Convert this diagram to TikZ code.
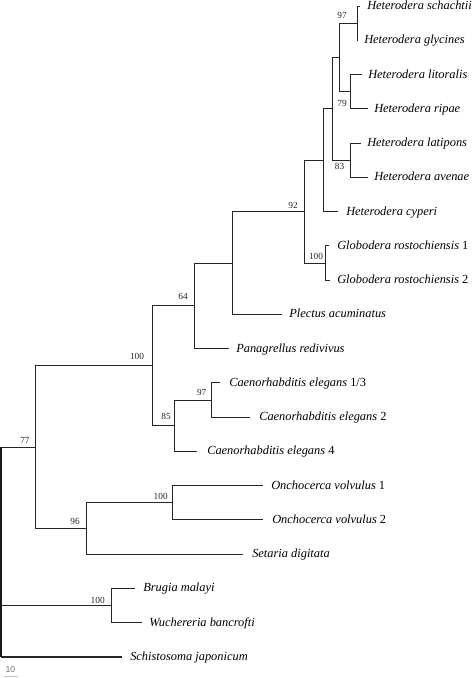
\documentclass[tikz,border=0pt]{standalone}
\usepackage{fontspec}
\setmainfont{Liberation Serif}
\newfontfamily\scalefont{Liberation Sans}
\begin{document}
\begin{tikzpicture}[x=0.75pt,y=-0.75pt,
  br/.style={draw=black!85, line width=0.7pt},
  rootline/.style={draw=black!90, line width=1.8pt},
  sp/.style={anchor=base west, inner sep=0pt, font=\fontsize{9.3}{11}\selectfont\itshape},
  bs/.style={inner sep=0pt, font=\fontsize{7}{8}\selectfont, text=black!85}]
\useasboundingbox (0,0) rectangle (474,678);
% leaf tips
\coordinate (t0) at (360,6.0);
\coordinate (t1) at (358,40.3);
\coordinate (t2) at (362,74.5);
\coordinate (t3) at (368,108.8);
\coordinate (t4) at (361,143.0);
\coordinate (t5) at (368,177.3);
\coordinate (t6) at (338,211.6);
\coordinate (t7) at (329,245.8);
\coordinate (t8) at (330,280.1);
\coordinate (t9) at (282,314.3);
\coordinate (t10) at (229,348.6);
\coordinate (t11) at (220,382.9);
\coordinate (t12) at (250,417.1);
\coordinate (t13) at (197,451.4);
\coordinate (t14) at (263,485.6);
\coordinate (t15) at (263,519.9);
\coordinate (t16) at (243,554.2);
\coordinate (t17) at (135,588.4);
\coordinate (t18) at (142,622.7);
\coordinate (t19) at (122,656.9);
% internal nodes
\coordinate (n97) at (357,23.2);
\coordinate (n79) at (350,91.7);
\coordinate (nD) at (339,57.4);
\coordinate (n83) at (350,160.2);
\coordinate (nC) at (332,108.8);
\coordinate (nB) at (323,160.2);
\coordinate (nG) at (325.7,263.0);
\coordinate (n92) at (304,211.6);
\coordinate (nA) at (232,263.0);
\coordinate (n64) at (194,305.8);
\coordinate (nCe97) at (211.7,400.0);
\coordinate (nCe85) at (174,425.7);
\coordinate (n100) at (152,365.8);
\coordinate (nOv) at (172.7,502.8);
\coordinate (n96) at (86.7,528.5);
\coordinate (n77) at (35,447.1);
\coordinate (nBr) at (111,605.5);
\coordinate (rt) at (1.2,447.1);
\coordinate (rb) at (1.2,656.9);
\coordinate (rm) at (1.2,605.5);
% branches
\draw[br] (n97) |- (t0);  \draw[br] (n97) |- (t1);
\draw[br] (n79) |- (t2);  \draw[br] (n79) |- (t3);
\draw[br] (nD) |- (n97);  \draw[br] (nD) |- (n79);
\draw[br] (n83) |- (t4);  \draw[br] (n83) |- (t5);
\draw[br] (nC) |- (nD);   \draw[br] (nC) |- (n83);
\draw[br] (nB) |- (nC);   \draw[br] (nB) |- (t6);
\draw[br] (nG) |- (t7);   \draw[br] (nG) |- (t8);
\draw[br] (n92) |- (nB);  \draw[br] (n92) |- (nG);
\draw[br] (nA) |- (n92);  \draw[br] (nA) |- (t9);
\draw[br] (n64) |- (nA);  \draw[br] (n64) |- (t10);
\draw[br] (nCe97) |- (t11); \draw[br] (nCe97) |- (t12);
\draw[br] (nCe85) |- (nCe97); \draw[br] (nCe85) |- (t13);
\draw[br] (n100) |- (n64); \draw[br] (n100) |- (nCe85);
\draw[br] (nOv) |- (t14); \draw[br] (nOv) |- (t15);
\draw[br] (n96) |- (nOv); \draw[br] (n96) |- (t16);
\draw[br] (n77) |- (n100); \draw[br] (n77) |- (n96);
\draw[br] (nBr) |- (t17); \draw[br] (nBr) |- (t18);
\draw[br] (rt) -- (n77);
\draw[br] (rm) -- (nBr);
\draw[br, line width=0.9pt] (rb) -- (t19);
\draw[rootline] (rt) -- (rb);
% species labels
\node[sp] (l0) at (367,9.5) {Heterodera schachtii};
\node[sp] (l1) at (364,43.8) {Heterodera glycines};
\node[sp] (l2) at (368,78.0) {Heterodera litoralis};
\node[sp] (l3) at (374,112.3) {Heterodera ripae};
\node[sp] (l4) at (367,146.5) {Heterodera latipons};
\node[sp] (l5) at (374,180.8) {Heterodera avenae};
\node[sp] (l6) at (346,215.1) {Heterodera cyperi};
\node[sp] (l7) at (337,249.3) {Globodera rostochiensis \upshape 1};
\node[sp] (l8) at (337,283.6) {Globodera rostochiensis \upshape 2};
\node[sp] (l9) at (289,317.8) {Plectus acuminatus};
\node[sp] (l10) at (236,352.1) {Panagrellus redivivus};
\node[sp] (l11) at (229,386.4) {Caenorhabditis elegans \upshape 1/3};
\node[sp] (l12) at (259,420.6) {Caenorhabditis elegans \upshape 2};
\node[sp] (l13) at (207,454.9) {Caenorhabditis elegans \upshape 4};
\node[sp] (l14) at (271,489.1) {Onchocerca volvulus \upshape 1};
\node[sp] (l15) at (272,523.4) {Onchocerca volvulus \upshape 2};
\node[sp] (l16) at (252,557.7) {Setaria digitata};
\node[sp] (l17) at (143,591.9) {Brugia malayi};
\node[sp] (l18) at (149,626.2) {Wuchereria bancrofti};
\node[sp] (l19) at (130,660.4) {Schistosoma japonicum};
% bootstrap values
\node[bs] (b97) at (342,15) {97};
\node[bs] (b79) at (342,103) {79};
\node[bs] (b83) at (339.5,166.5) {83};
\node[bs] (b92) at (293,205) {92};
\node[bs] (bG) at (316,256) {100};
\node[bs] (b64) at (183,296) {64};
\node[bs] (b100) at (137,356) {100};
\node[bs] (bCe97) at (201.7,392) {97};
\node[bs] (b85) at (166,416) {85};
\node[bs] (bOv) at (160.7,496) {100};
\node[bs] (b96) at (75,521.7) {96};
\node[bs] (b77) at (25,440) {77};
\node[bs] (bBr) at (97.7,600) {100};
% scale
\node[inner sep=0pt, text=black!55, font=\scalefont\fontsize{6.5}{7}\selectfont] (sc) at (10.5,670) {10};
\coordinate (s1) at (4,676.8);
\coordinate (s2) at (18,676.8);
\draw[black!25, line width=0.6pt] (s1) -- (s2);
\end{tikzpicture}
\end{document}
